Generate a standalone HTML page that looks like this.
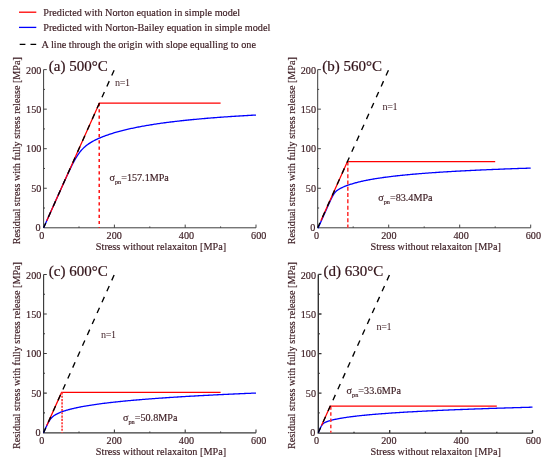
<!DOCTYPE html>
<html lang="en"><head><meta charset="utf-8"><title>Figure</title>
<style>html,body{margin:0;padding:0;background:#fff}body{width:550px;height:463px;overflow:hidden}</style></head>
<body>
<svg width="550" height="463" viewBox="0 0 550 463" style="display:block">
<rect width="550" height="463" fill="#fff"/>
<g font-family="'Liberation Serif', 'Times New Roman', serif" fill="#3a1a20" stroke="#3a1a20" stroke-width="0.16" font-size="10.15">
<line x1="19" y1="12.2" x2="36.3" y2="12.2" stroke="#ff0000" stroke-width="1.3"/>
<text transform="translate(43.20 16.00) scale(1 1.03)" font-size="10.23">Predicted with Norton equation in simple model</text>
<line x1="19" y1="27.4" x2="36.3" y2="27.4" stroke="#0000ff" stroke-width="1.3"/>
<text transform="translate(43.20 31.10) scale(1 1.03)" font-size="10.23">Predicted with Norton-Bailey equation in simple model</text>
<line x1="19.7" y1="44.4" x2="36.3" y2="44.4" stroke="#000000" stroke-width="1.3" stroke-dasharray="5.7 5.1"/>
<text transform="translate(41.60 47.90) scale(1 1.03)" font-size="10.23">A line through the origin with slope equalling to one</text>
<g>
<path d="M43.60 69.60V227.80H256.00" fill="none" stroke="#3c3c3c" stroke-width="1.0"/>
<path d="M79.00 227.80v-1.4M114.40 227.80v-3.2M149.80 227.80v-1.4M185.20 227.80v-3.2M220.60 227.80v-1.4M256.00 227.80v-3.2M43.60 208.03h1.4M43.60 188.25h3.2M43.60 168.48h1.4M43.60 148.70h3.2M43.60 128.93h1.4M43.60 109.15h3.2M43.60 89.38h1.4M43.60 69.60h3.2" fill="none" stroke="#3c3c3c" stroke-width="0.95"/>
<text transform="translate(41.90 238.80) scale(1 1.03)" text-anchor="middle">0</text>
<text transform="translate(114.16 238.80) scale(1 1.03)" text-anchor="middle">200</text>
<text transform="translate(186.42 238.80) scale(1 1.03)" text-anchor="middle">400</text>
<text transform="translate(258.68 238.80) scale(1 1.03)" text-anchor="middle">600</text>
<text transform="translate(40.60 231.10) scale(1 1.03)" text-anchor="end">0</text>
<text transform="translate(41.30 191.73) scale(1 1.03)" text-anchor="end">50</text>
<text transform="translate(41.30 152.35) scale(1 1.03)" text-anchor="end">100</text>
<text transform="translate(41.30 112.98) scale(1 1.03)" text-anchor="end">150</text>
<text transform="translate(41.30 73.60) scale(1 1.03)" text-anchor="end">200</text>
<text transform="translate(161.00 250.30) scale(1 1.03)" text-anchor="middle" font-size="10.23">Stress without relaxaiton [MPa]</text>
<text transform="translate(20.30 150.70) rotate(-90) scale(1 1.03)" text-anchor="middle">Residual stress with fully stress release [MPa]</text>
<path d="M43.60 227.80 L43.63 227.73 L43.70 227.58 L43.79 227.37 L43.90 227.12 L44.03 226.83 L44.18 226.50 L44.34 226.14 L44.52 225.74 L44.71 225.32 L44.91 224.86 L45.13 224.38 L45.36 223.87 L45.60 223.33 L45.85 222.77 L46.12 222.18 L46.39 221.57 L46.67 220.93 L46.97 220.28 L47.27 219.60 L47.59 218.89 L47.91 218.17 L48.24 217.43 L48.58 216.66 L48.94 215.88 L49.30 215.07 L49.66 214.25 L50.04 213.41 L50.43 212.54 L50.82 211.66 L51.22 210.76 L51.64 209.85 L52.05 208.91 L52.48 207.96 L52.91 206.99 L53.36 206.00 L53.81 204.99 L54.26 203.97 L54.73 202.94 L55.20 201.88 L55.68 200.81 L56.17 199.72 L56.66 198.62 L57.16 197.50 L57.67 196.37 L58.19 195.22 L58.71 194.05 L59.24 192.87 L59.77 191.68 L60.32 190.47 L60.87 189.25 L61.42 188.01 L61.98 186.76 L62.55 185.50 L63.13 184.22 L63.71 182.93 L64.30 181.63 L64.89 180.32 L65.49 179.00 L66.10 177.67 L66.71 176.33 L67.33 174.99 L67.96 173.64 L68.59 172.29 L69.23 170.94 L69.87 169.58 L70.52 168.23 L71.18 166.89 L71.84 165.56 L72.51 164.24 L73.18 162.94 L73.86 161.66 L74.54 160.40 L75.23 159.18 L75.93 157.98 L76.63 156.82 L77.34 155.71 L78.05 154.63 L78.77 153.60 L79.49 152.61 L80.22 151.67 L80.96 150.77 L81.70 149.92 L82.45 149.11 L83.20 148.34 L83.95 147.60 L84.72 146.91 L85.48 146.25 L86.26 145.61 L87.04 145.01 L87.82 144.44 L88.61 143.88 L89.40 143.35 L90.20 142.84 L91.00 142.35 L91.81 141.87 L92.63 141.41 L93.45 140.97 L94.27 140.53 L95.10 140.11 L95.94 139.70 L96.78 139.30 L97.62 138.90 L98.47 138.52 L99.33 138.15 L100.19 137.78 L101.05 137.42 L101.92 137.07 L102.80 136.72 L103.68 136.38 L104.56 136.05 L105.45 135.72 L106.34 135.40 L107.24 135.08 L108.15 134.77 L109.05 134.46 L109.97 134.16 L110.88 133.86 L111.81 133.57 L112.73 133.28 L113.67 132.99 L114.60 132.71 L115.54 132.44 L116.49 132.17 L117.44 131.90 L118.39 131.63 L119.35 131.37 L120.32 131.11 L121.29 130.86 L122.26 130.61 L123.24 130.36 L124.22 130.12 L125.21 129.88 L126.20 129.64 L127.20 129.40 L128.20 129.17 L129.20 128.94 L130.21 128.72 L131.22 128.49 L132.24 128.27 L133.26 128.06 L134.29 127.84 L135.32 127.63 L136.36 127.42 L137.40 127.21 L138.44 127.01 L139.49 126.81 L140.54 126.61 L141.60 126.41 L142.66 126.22 L143.73 126.02 L144.80 125.83 L145.87 125.65 L146.95 125.46 L148.04 125.28 L149.12 125.10 L150.21 124.92 L151.31 124.74 L152.41 124.56 L153.51 124.39 L154.62 124.22 L155.73 124.05 L156.85 123.88 L157.97 123.72 L159.10 123.56 L160.22 123.39 L161.36 123.23 L162.49 123.08 L163.64 122.92 L164.78 122.76 L165.93 122.61 L167.08 122.46 L168.24 122.31 L169.40 122.16 L170.57 122.02 L171.74 121.87 L172.91 121.73 L174.09 121.59 L175.27 121.45 L176.46 121.31 L177.65 121.17 L178.84 121.04 L180.04 120.90 L181.24 120.77 L182.44 120.64 L183.65 120.51 L184.87 120.38 L186.08 120.25 L187.30 120.12 L188.53 120.00 L189.76 119.88 L190.99 119.75 L192.23 119.63 L193.47 119.51 L194.71 119.39 L195.96 119.28 L197.21 119.16 L198.47 119.05 L199.73 118.93 L200.99 118.82 L202.26 118.71 L203.53 118.60 L204.81 118.49 L206.08 118.38 L207.37 118.27 L208.65 118.17 L209.94 118.06 L211.24 117.96 L212.53 117.85 L213.84 117.75 L215.14 117.65 L216.45 117.55 L217.76 117.45 L219.08 117.35 L220.40 117.26 L221.72 117.16 L223.05 117.07 L224.38 116.97 L225.72 116.88 L227.05 116.78 L228.40 116.69 L229.74 116.60 L231.09 116.51 L232.44 116.42 L233.80 116.34 L235.16 116.25 L236.53 116.16 L237.89 116.08 L239.26 115.99 L240.64 115.91 L242.02 115.82 L243.40 115.74 L244.79 115.66 L246.18 115.58 L247.57 115.50 L248.96 115.42 L250.36 115.34 L251.77 115.26 L253.18 115.19 L254.59 115.11 L256.00 115.03" fill="none" stroke="#0000ff" stroke-width="1.3" stroke-linejoin="round"/>
<path d="M46.79 220.68L99.41 103.08H220.60" fill="none" stroke="#ff0000" stroke-width="1.3" stroke-linejoin="miter"/>
<line x1="99.21" y1="103.08" x2="99.21" y2="227.80" stroke="#ff0000" stroke-width="1.4" stroke-dasharray="3.2 3"/>
<line x1="114.12" y1="70.23" x2="43.60" y2="227.80" stroke="#000" stroke-width="1.35" stroke-dasharray="5.8 6.15"/>
<text transform="translate(48.80 71.25) scale(1 1.0)" font-size="15" stroke-width="0.22" fill="#33141a" stroke="#33141a">(a) 500°C</text>
<text transform="translate(115.00 86.40) scale(1 1.03)" letter-spacing="-0.4" stroke-width="0">n=1</text>
<text transform="translate(109.40 181.00) scale(1 1.03)">σ<tspan font-size="6.3" dy="3.1">pn</tspan><tspan dy="-3.1">=157.1MPa</tspan></text>
</g>
<g>
<path d="M317.70 69.60V227.80H530.70" fill="none" stroke="#3c3c3c" stroke-width="1.0"/>
<path d="M353.20 227.80v-1.4M388.70 227.80v-3.2M424.20 227.80v-1.4M459.70 227.80v-3.2M495.20 227.80v-1.4M530.70 227.80v-3.2M317.70 208.03h1.4M317.70 188.25h3.2M317.70 168.48h1.4M317.70 148.70h3.2M317.70 128.93h1.4M317.70 109.15h3.2M317.70 89.38h1.4M317.70 69.60h3.2" fill="none" stroke="#3c3c3c" stroke-width="0.95"/>
<text transform="translate(316.60 238.80) scale(1 1.03)" text-anchor="middle">0</text>
<text transform="translate(388.86 238.80) scale(1 1.03)" text-anchor="middle">200</text>
<text transform="translate(461.12 238.80) scale(1 1.03)" text-anchor="middle">400</text>
<text transform="translate(533.38 238.80) scale(1 1.03)" text-anchor="middle">600</text>
<text transform="translate(315.30 231.10) scale(1 1.03)" text-anchor="end">0</text>
<text transform="translate(316.00 191.73) scale(1 1.03)" text-anchor="end">50</text>
<text transform="translate(316.00 152.35) scale(1 1.03)" text-anchor="end">100</text>
<text transform="translate(316.00 112.98) scale(1 1.03)" text-anchor="end">150</text>
<text transform="translate(316.00 73.60) scale(1 1.03)" text-anchor="end">200</text>
<text transform="translate(435.70 250.30) scale(1 1.03)" text-anchor="middle" font-size="10.23">Stress without relaxaiton [MPa]</text>
<text transform="translate(294.90 150.70) rotate(-90) scale(1 1.03)" text-anchor="middle">Residual stress with fully stress release [MPa]</text>
<path d="M317.70 227.80 L317.73 227.80 L317.80 227.80 L317.89 227.80 L318.00 227.80 L318.13 227.80 L318.28 227.62 L318.45 227.25 L318.62 226.86 L318.81 226.43 L319.02 225.97 L319.24 225.49 L319.46 224.97 L319.71 224.43 L319.96 223.87 L320.22 223.28 L320.50 222.67 L320.78 222.03 L321.08 221.37 L321.38 220.69 L321.70 219.99 L322.02 219.26 L322.35 218.52 L322.70 217.75 L323.05 216.96 L323.41 216.16 L323.78 215.33 L324.16 214.48 L324.55 213.62 L324.94 212.73 L325.35 211.83 L325.76 210.91 L326.18 209.98 L326.61 209.02 L327.04 208.05 L327.48 207.06 L327.94 206.05 L328.39 205.04 L328.86 204.00 L329.33 202.96 L329.82 201.90 L330.30 200.84 L330.80 199.79 L331.30 198.74 L331.81 197.70 L332.33 196.70 L332.85 195.73 L333.38 194.82 L333.92 193.98 L334.46 193.21 L335.01 192.52 L335.57 191.89 L336.14 191.33 L336.71 190.82 L337.28 190.36 L337.87 189.94 L338.46 189.55 L339.05 189.18 L339.65 188.83 L340.26 188.49 L340.88 188.17 L341.50 187.86 L342.13 187.56 L342.76 187.27 L343.40 186.98 L344.05 186.71 L344.70 186.44 L345.35 186.17 L346.02 185.91 L346.69 185.66 L347.36 185.41 L348.04 185.16 L348.73 184.93 L349.42 184.69 L350.12 184.46 L350.82 184.23 L351.53 184.01 L352.25 183.79 L352.97 183.58 L353.70 183.36 L354.43 183.16 L355.16 182.95 L355.91 182.75 L356.66 182.55 L357.41 182.36 L358.17 182.17 L358.93 181.98 L359.70 181.79 L360.48 181.61 L361.26 181.43 L362.04 181.25 L362.83 181.08 L363.63 180.90 L364.43 180.73 L365.24 180.57 L366.05 180.40 L366.87 180.24 L367.69 180.08 L368.52 179.92 L369.35 179.76 L370.19 179.61 L371.03 179.45 L371.88 179.30 L372.73 179.16 L373.58 179.01 L374.45 178.86 L375.31 178.72 L376.19 178.58 L377.06 178.44 L377.95 178.30 L378.83 178.17 L379.72 178.03 L380.62 177.90 L381.52 177.77 L382.43 177.64 L383.34 177.51 L384.25 177.39 L385.17 177.26 L386.10 177.14 L387.03 177.02 L387.96 176.90 L388.90 176.78 L389.85 176.66 L390.80 176.54 L391.75 176.43 L392.71 176.31 L393.67 176.20 L394.64 176.09 L395.61 175.98 L396.58 175.87 L397.56 175.76 L398.55 175.65 L399.54 175.55 L400.53 175.44 L401.53 175.34 L402.54 175.23 L403.54 175.13 L404.55 175.03 L405.57 174.93 L406.59 174.83 L407.62 174.73 L408.65 174.64 L409.68 174.54 L410.72 174.45 L411.76 174.35 L412.81 174.26 L413.86 174.17 L414.92 174.07 L415.98 173.98 L417.04 173.89 L418.11 173.80 L419.19 173.72 L420.26 173.63 L421.34 173.54 L422.43 173.46 L423.52 173.37 L424.62 173.29 L425.71 173.20 L426.82 173.12 L427.92 173.04 L429.04 172.96 L430.15 172.88 L431.27 172.80 L432.39 172.72 L433.52 172.64 L434.65 172.56 L435.79 172.48 L436.93 172.41 L438.08 172.33 L439.22 172.25 L440.38 172.18 L441.53 172.10 L442.69 172.03 L443.86 171.96 L445.03 171.88 L446.20 171.81 L447.38 171.74 L448.56 171.67 L449.74 171.60 L450.93 171.53 L452.12 171.46 L453.32 171.39 L454.52 171.32 L455.73 171.26 L456.94 171.19 L458.15 171.12 L459.36 171.06 L460.59 170.99 L461.81 170.93 L463.04 170.86 L464.27 170.80 L465.51 170.73 L466.75 170.67 L467.99 170.61 L469.24 170.55 L470.49 170.48 L471.75 170.42 L473.01 170.36 L474.27 170.30 L475.54 170.24 L476.81 170.18 L478.08 170.12 L479.36 170.06 L480.64 170.01 L481.93 169.95 L483.22 169.89 L484.51 169.83 L485.81 169.78 L487.11 169.72 L488.42 169.66 L489.73 169.61 L491.04 169.55 L492.35 169.50 L493.67 169.44 L495.00 169.39 L496.33 169.33 L497.66 169.28 L498.99 169.23 L500.33 169.18 L501.67 169.12 L503.02 169.07 L504.37 169.02 L505.72 168.97 L507.08 168.92 L508.44 168.87 L509.80 168.81 L511.17 168.76 L512.54 168.72 L513.92 168.67 L515.30 168.62 L516.68 168.57 L518.06 168.52 L519.45 168.47 L520.85 168.42 L522.24 168.37 L523.64 168.33 L525.05 168.28 L526.46 168.23 L527.87 168.19 L529.28 168.14 L530.70 168.09" fill="none" stroke="#0000ff" stroke-width="1.3" stroke-linejoin="round"/>
<path d="M320.89 220.68L347.44 161.53H495.20" fill="none" stroke="#ff0000" stroke-width="1.3" stroke-linejoin="miter"/>
<line x1="347.81" y1="161.53" x2="347.81" y2="227.80" stroke="#ff3a3a" stroke-width="1.6" stroke-dasharray="4 2.3"/>
<line x1="388.42" y1="70.23" x2="317.70" y2="227.80" stroke="#000" stroke-width="1.35" stroke-dasharray="5.8 6.15"/>
<text transform="translate(322.20 71.25) scale(1 1.0)" font-size="15" stroke-width="0.22" fill="#33141a" stroke="#33141a">(b) 560°C</text>
<text transform="translate(382.50 110.00) scale(1 1.03)" letter-spacing="-0.4" stroke-width="0">n=1</text>
<text transform="translate(378.20 201.00) scale(1 1.03)">σ<tspan font-size="6.3" dy="3.1">pn</tspan><tspan dy="-3.1">=83.4MPa</tspan></text>
</g>
<g>
<path d="M43.60 274.45V432.80H256.00" fill="none" stroke="#3a3a3a" stroke-width="1.15"/>
<path d="M79.00 432.80v-1.4M114.40 432.80v-3.2M149.80 432.80v-1.4M185.20 432.80v-3.2M220.60 432.80v-1.4M256.00 432.80v-3.2M43.60 412.88h1.4M43.60 393.10h3.2M43.60 373.32h1.4M43.60 353.55h3.2M43.60 333.77h1.4M43.60 314.00h3.2M43.60 294.22h1.4M43.60 274.45h3.2" fill="none" stroke="#3a3a3a" stroke-width="1.09"/>
<text transform="translate(41.90 443.70) scale(1 1.03)" text-anchor="middle">0</text>
<text transform="translate(114.16 443.70) scale(1 1.03)" text-anchor="middle">200</text>
<text transform="translate(186.42 443.70) scale(1 1.03)" text-anchor="middle">400</text>
<text transform="translate(258.68 443.70) scale(1 1.03)" text-anchor="middle">600</text>
<text transform="translate(40.60 436.00) scale(1 1.03)" text-anchor="end">0</text>
<text transform="translate(41.30 396.62) scale(1 1.03)" text-anchor="end">50</text>
<text transform="translate(41.30 357.25) scale(1 1.03)" text-anchor="end">100</text>
<text transform="translate(41.30 317.88) scale(1 1.03)" text-anchor="end">150</text>
<text transform="translate(41.30 278.50) scale(1 1.03)" text-anchor="end">200</text>
<text transform="translate(161.00 455.20) scale(1 1.03)" text-anchor="middle" font-size="10.23">Stress without relaxaiton [MPa]</text>
<text transform="translate(20.30 355.60) rotate(-90) scale(1 1.03)" text-anchor="middle">Residual stress with fully stress release [MPa]</text>
<path d="M43.60 432.65 L43.63 432.65 L43.70 432.43 L43.79 432.22 L43.90 431.97 L44.03 431.68 L44.18 431.35 L44.34 430.99 L44.52 430.60 L44.71 430.17 L44.91 429.71 L45.13 429.23 L45.36 428.73 L45.60 428.19 L45.85 427.64 L46.12 427.06 L46.39 426.47 L46.67 425.86 L46.97 425.24 L47.27 424.60 L47.59 423.97 L47.91 423.33 L48.24 422.69 L48.58 422.07 L48.94 421.45 L49.30 420.86 L49.66 420.28 L50.04 419.73 L50.43 419.20 L50.82 418.69 L51.22 418.22 L51.64 417.77 L52.05 417.34 L52.48 416.93 L52.91 416.55 L53.36 416.19 L53.81 415.84 L54.26 415.51 L54.73 415.20 L55.20 414.90 L55.68 414.61 L56.17 414.33 L56.66 414.06 L57.16 413.80 L57.67 413.55 L58.19 413.30 L58.71 413.06 L59.24 412.83 L59.77 412.60 L60.32 412.38 L60.87 412.16 L61.42 411.95 L61.98 411.74 L62.55 411.54 L63.13 411.34 L63.71 411.14 L64.30 410.95 L64.89 410.76 L65.49 410.57 L66.10 410.38 L66.71 410.20 L67.33 410.02 L67.96 409.85 L68.59 409.67 L69.23 409.50 L69.87 409.33 L70.52 409.16 L71.18 409.00 L71.84 408.83 L72.51 408.67 L73.18 408.51 L73.86 408.35 L74.54 408.20 L75.23 408.04 L75.93 407.89 L76.63 407.74 L77.34 407.59 L78.05 407.44 L78.77 407.30 L79.49 407.15 L80.22 407.01 L80.96 406.87 L81.70 406.73 L82.45 406.59 L83.20 406.45 L83.95 406.31 L84.72 406.18 L85.48 406.05 L86.26 405.91 L87.04 405.78 L87.82 405.65 L88.61 405.52 L89.40 405.39 L90.20 405.27 L91.00 405.14 L91.81 405.02 L92.63 404.89 L93.45 404.77 L94.27 404.65 L95.10 404.53 L95.94 404.41 L96.78 404.29 L97.62 404.17 L98.47 404.06 L99.33 403.94 L100.19 403.82 L101.05 403.71 L101.92 403.60 L102.80 403.48 L103.68 403.37 L104.56 403.26 L105.45 403.15 L106.34 403.04 L107.24 402.93 L108.15 402.83 L109.05 402.72 L109.97 402.61 L110.88 402.51 L111.81 402.40 L112.73 402.30 L113.67 402.20 L114.60 402.09 L115.54 401.99 L116.49 401.89 L117.44 401.79 L118.39 401.69 L119.35 401.59 L120.32 401.49 L121.29 401.39 L122.26 401.30 L123.24 401.20 L124.22 401.10 L125.21 401.01 L126.20 400.91 L127.20 400.82 L128.20 400.72 L129.20 400.63 L130.21 400.54 L131.22 400.44 L132.24 400.35 L133.26 400.26 L134.29 400.17 L135.32 400.08 L136.36 399.99 L137.40 399.90 L138.44 399.81 L139.49 399.73 L140.54 399.64 L141.60 399.55 L142.66 399.46 L143.73 399.38 L144.80 399.29 L145.87 399.21 L146.95 399.12 L148.04 399.04 L149.12 398.95 L150.21 398.87 L151.31 398.79 L152.41 398.70 L153.51 398.62 L154.62 398.54 L155.73 398.46 L156.85 398.38 L157.97 398.30 L159.10 398.22 L160.22 398.14 L161.36 398.06 L162.49 397.98 L163.64 397.90 L164.78 397.82 L165.93 397.74 L167.08 397.67 L168.24 397.59 L169.40 397.51 L170.57 397.43 L171.74 397.36 L172.91 397.28 L174.09 397.21 L175.27 397.13 L176.46 397.06 L177.65 396.98 L178.84 396.91 L180.04 396.84 L181.24 396.76 L182.44 396.69 L183.65 396.62 L184.87 396.54 L186.08 396.47 L187.30 396.40 L188.53 396.33 L189.76 396.26 L190.99 396.19 L192.23 396.12 L193.47 396.05 L194.71 395.98 L195.96 395.91 L197.21 395.84 L198.47 395.77 L199.73 395.70 L200.99 395.63 L202.26 395.56 L203.53 395.50 L204.81 395.43 L206.08 395.36 L207.37 395.29 L208.65 395.23 L209.94 395.16 L211.24 395.09 L212.53 395.03 L213.84 394.96 L215.14 394.90 L216.45 394.83 L217.76 394.77 L219.08 394.70 L220.40 394.64 L221.72 394.57 L223.05 394.51 L224.38 394.44 L225.72 394.38 L227.05 394.32 L228.40 394.25 L229.74 394.19 L231.09 394.13 L232.44 394.07 L233.80 394.00 L235.16 393.94 L236.53 393.88 L237.89 393.82 L239.26 393.76 L240.64 393.70 L242.02 393.64 L243.40 393.58 L244.79 393.52 L246.18 393.46 L247.57 393.40 L248.96 393.34 L250.36 393.28 L251.77 393.22 L253.18 393.16 L254.59 393.10 L256.00 393.04" fill="none" stroke="#0000ff" stroke-width="1.3" stroke-linejoin="round"/>
<path d="M46.79 425.53L61.58 392.47H220.60" fill="none" stroke="#ff0000" stroke-width="1.3" stroke-linejoin="miter"/>
<line x1="62.08" y1="392.47" x2="62.08" y2="432.65" stroke="#ff4040" stroke-width="1.7" stroke-dasharray="2.1 1.2"/>
<line x1="114.12" y1="275.08" x2="43.60" y2="432.65" stroke="#000" stroke-width="1.35" stroke-dasharray="5.8 6.15"/>
<text transform="translate(48.80 276.15) scale(1 1.0)" font-size="15" stroke-width="0.22" fill="#33141a" stroke="#33141a">(c) 600°C</text>
<text transform="translate(101.00 337.50) scale(1 1.03)" letter-spacing="-0.4" stroke-width="0">n=1</text>
<text transform="translate(123.00 420.70) scale(1 1.03)">σ<tspan font-size="6.3" dy="3.1">pn</tspan><tspan dy="-3.1">=50.8MPa</tspan></text>
</g>
<g>
<path d="M318.30 274.45V433.10H532.50" fill="none" stroke="#333333" stroke-width="1.4"/>
<path d="M354.00 433.10v-1.4M389.70 433.10v-3.2M425.40 433.10v-1.4M461.10 433.10v-3.2M496.80 433.10v-1.4M532.50 433.10v-3.2M318.30 412.88h1.4M318.30 393.10h3.2M318.30 373.32h1.4M318.30 353.55h3.2M318.30 333.77h1.4M318.30 314.00h3.2M318.30 294.22h1.4M318.30 274.45h3.2" fill="none" stroke="#333333" stroke-width="1.33"/>
<text transform="translate(316.60 443.70) scale(1 1.03)" text-anchor="middle">0</text>
<text transform="translate(388.86 443.70) scale(1 1.03)" text-anchor="middle">200</text>
<text transform="translate(461.12 443.70) scale(1 1.03)" text-anchor="middle">400</text>
<text transform="translate(533.38 443.70) scale(1 1.03)" text-anchor="middle">600</text>
<text transform="translate(315.30 436.00) scale(1 1.03)" text-anchor="end">0</text>
<text transform="translate(316.00 396.62) scale(1 1.03)" text-anchor="end">50</text>
<text transform="translate(316.00 357.25) scale(1 1.03)" text-anchor="end">100</text>
<text transform="translate(316.00 317.88) scale(1 1.03)" text-anchor="end">150</text>
<text transform="translate(316.00 278.50) scale(1 1.03)" text-anchor="end">200</text>
<text transform="translate(435.70 455.20) scale(1 1.03)" text-anchor="middle" font-size="10.23">Stress without relaxaiton [MPa]</text>
<text transform="translate(295.00 355.60) rotate(-90) scale(1 1.03)" text-anchor="middle">Residual stress with fully stress release [MPa]</text>
<path d="M318.30 432.65 L318.33 432.58 L318.40 432.42 L318.49 432.22 L318.61 431.97 L318.74 431.67 L318.89 431.34 L319.05 430.98 L319.23 430.58 L319.42 430.15 L319.63 429.69 L319.84 429.20 L320.07 428.69 L320.32 428.16 L320.57 427.62 L320.84 427.07 L321.11 426.52 L321.40 425.98 L321.70 425.47 L322.00 425.00 L322.32 424.57 L322.65 424.19 L322.98 423.84 L323.33 423.54 L323.68 423.27 L324.04 423.02 L324.42 422.80 L324.80 422.59 L325.19 422.39 L325.58 422.21 L325.99 422.03 L326.40 421.86 L326.83 421.69 L327.26 421.53 L327.69 421.38 L328.14 421.23 L328.59 421.08 L329.05 420.93 L329.52 420.79 L330.00 420.65 L330.48 420.52 L330.97 420.38 L331.47 420.25 L331.98 420.12 L332.49 419.99 L333.01 419.86 L333.54 419.74 L334.07 419.61 L334.61 419.49 L335.16 419.37 L335.71 419.25 L336.27 419.13 L336.84 419.02 L337.41 418.90 L337.99 418.79 L338.58 418.68 L339.17 418.57 L339.77 418.46 L340.38 418.35 L340.99 418.24 L341.61 418.14 L342.23 418.03 L342.86 417.93 L343.50 417.83 L344.14 417.73 L344.79 417.63 L345.45 417.53 L346.11 417.43 L346.78 417.33 L347.45 417.23 L348.13 417.14 L348.81 417.04 L349.50 416.95 L350.20 416.86 L350.90 416.76 L351.61 416.67 L352.32 416.58 L353.04 416.49 L353.77 416.40 L354.50 416.31 L355.23 416.23 L355.98 416.14 L356.72 416.05 L357.47 415.97 L358.23 415.88 L359.00 415.80 L359.76 415.72 L360.54 415.63 L361.32 415.55 L362.10 415.47 L362.89 415.39 L363.69 415.31 L364.49 415.23 L365.30 415.15 L366.11 415.07 L366.92 414.99 L367.74 414.92 L368.57 414.84 L369.40 414.76 L370.24 414.69 L371.08 414.61 L371.93 414.54 L372.78 414.46 L373.64 414.39 L374.50 414.32 L375.37 414.25 L376.24 414.17 L377.12 414.10 L378.00 414.03 L378.88 413.96 L379.78 413.89 L380.67 413.82 L381.57 413.75 L382.48 413.68 L383.39 413.61 L384.31 413.54 L385.23 413.48 L386.15 413.41 L387.08 413.34 L388.02 413.28 L388.96 413.21 L389.90 413.14 L390.85 413.08 L391.81 413.01 L392.77 412.95 L393.73 412.89 L394.70 412.82 L395.67 412.76 L396.65 412.69 L397.63 412.63 L398.61 412.57 L399.60 412.51 L400.60 412.45 L401.60 412.38 L402.60 412.32 L403.61 412.26 L404.63 412.20 L405.64 412.14 L406.67 412.08 L407.69 412.02 L408.72 411.96 L409.76 411.90 L410.80 411.85 L411.84 411.79 L412.89 411.73 L413.95 411.67 L415.00 411.61 L416.07 411.56 L417.13 411.50 L418.20 411.44 L419.28 411.39 L420.36 411.33 L421.44 411.28 L422.53 411.22 L423.62 411.17 L424.72 411.11 L425.82 411.06 L426.92 411.00 L428.03 410.95 L429.15 410.89 L430.26 410.84 L431.38 410.79 L432.51 410.73 L433.64 410.68 L434.77 410.63 L435.91 410.57 L437.06 410.52 L438.20 410.47 L439.35 410.42 L440.51 410.37 L441.67 410.32 L442.83 410.26 L444.00 410.21 L445.17 410.16 L446.34 410.11 L447.52 410.06 L448.71 410.01 L449.89 409.96 L451.09 409.91 L452.28 409.86 L453.48 409.81 L454.69 409.77 L455.89 409.72 L457.10 409.67 L458.32 409.62 L459.54 409.57 L460.76 409.52 L461.99 409.48 L463.22 409.43 L464.46 409.38 L465.70 409.33 L466.94 409.29 L468.19 409.24 L469.44 409.19 L470.69 409.15 L471.95 409.10 L473.21 409.05 L474.48 409.01 L475.75 408.96 L477.03 408.92 L478.30 408.87 L479.59 408.82 L480.87 408.78 L482.16 408.73 L483.45 408.69 L484.75 408.65 L486.05 408.60 L487.36 408.56 L488.67 408.51 L489.98 408.47 L491.29 408.42 L492.61 408.38 L493.94 408.34 L495.27 408.29 L496.60 408.25 L497.93 408.21 L499.27 408.16 L500.61 408.12 L501.96 408.08 L503.31 408.04 L504.66 407.99 L506.02 407.95 L507.38 407.91 L508.74 407.87 L510.11 407.83 L511.49 407.78 L512.86 407.74 L514.24 407.70 L515.62 407.66 L517.01 407.62 L518.40 407.58 L519.79 407.54 L521.19 407.50 L522.59 407.46 L524.00 407.42 L525.40 407.38 L526.82 407.33 L528.23 407.29 L529.65 407.25 L531.07 407.22 L532.50 407.18" fill="none" stroke="#0000ff" stroke-width="1.3" stroke-linejoin="round"/>
<path d="M321.51 425.53L330.30 406.07H496.80" fill="none" stroke="#ff0000" stroke-width="1.3" stroke-linejoin="miter"/>
<line x1="330.80" y1="406.07" x2="330.80" y2="432.65" stroke="#ff3a3a" stroke-width="1.6" stroke-dasharray="3.6 2.6"/>
<line x1="389.41" y1="275.08" x2="318.30" y2="432.65" stroke="#000" stroke-width="1.35" stroke-dasharray="5.8 6.15"/>
<text transform="translate(323.50 276.15) scale(1 1.0)" font-size="15" stroke-width="0.22" fill="#33141a" stroke="#33141a">(d) 630°C</text>
<text transform="translate(376.50 329.80) scale(1 1.03)" letter-spacing="-0.4" stroke-width="0">n=1</text>
<text transform="translate(346.60 393.60) scale(1 1.03)">σ<tspan font-size="6.3" dy="3.1">pn</tspan><tspan dy="-3.1">=33.6MPa</tspan></text>
</g>
</g></svg>
</body></html>
